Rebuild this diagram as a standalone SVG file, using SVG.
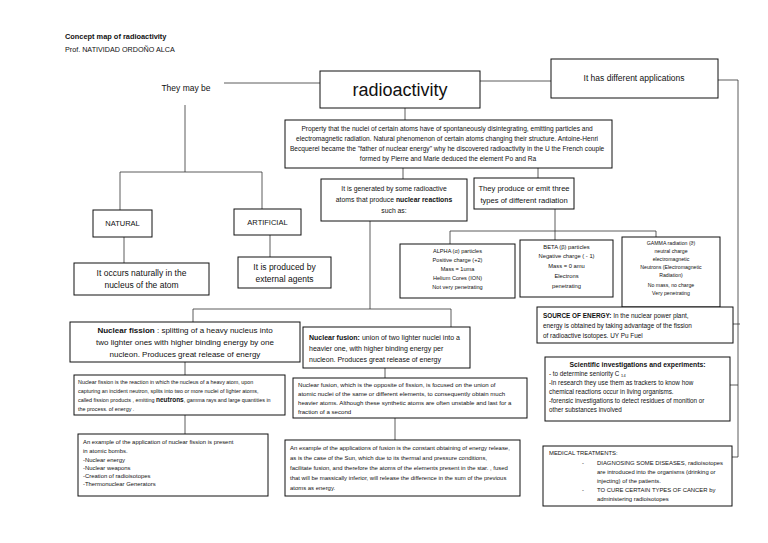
<svg xmlns="http://www.w3.org/2000/svg" width="768" height="543" viewBox="0 0 768 543">
<style>
.bx{fill:#fff;stroke:#111;stroke-width:1}
.ln{fill:none;stroke:#333;stroke-width:0.8}
text{font-family:"Liberation Sans",Arial,sans-serif;fill:#111}
.c{text-anchor:middle}
.b{font-weight:bold}
</style>
<rect width="768" height="543" fill="#fff"/>
<g id="header">
<text x="65" y="39" font-size="7.4" class="b">Concept map of radioactivity</text>
<text x="65" y="52" font-size="7.2">Prof. NATIVIDAD ORDOÑO ALCA</text>
</g>
<g id="connectors">
<path class="ln" d="M224 83H320"/>
<path class="ln" d="M185 105V172M120 172H262M120 172V210M262 172V209"/>
<path class="ln" d="M480 81H551"/>
<path class="ln" d="M718 80H738V457"/>
<path class="ln" d="M405 108V120"/>
<path class="ln" d="M403 168V179M538 168V178"/>
<path class="ln" d="M124 237V263M270 235V257"/>
<path class="ln" d="M555 209V231M450 231H656M450 231V244M555 231V240M656 231V237"/>
<path class="ln" d="M370 221V309M193 309H451M193 309V322M451 309V327"/>
<path class="ln" d="M185 362V375M185 415V434"/>
<path class="ln" d="M385 368V378M395 418V440"/>
<path class="ln" d="M733 324H740M730 385H738M732 457H738"/>
</g>
<g id="they-may-be"><text x="186" y="91" font-size="8.5" class="c">They may be</text></g>
<g id="radioactivity">
<rect class="bx" x="320" y="71" width="160" height="37"/>
<text x="400" y="96" font-size="18" class="c">radioactivity</text>
</g>
<g id="applications">
<rect class="bx" x="551" y="59" width="167" height="39"/>
<text x="634" y="81" font-size="8.5" class="c">It has different applications</text>
</g>
<g id="property">
<rect class="bx" x="285" y="120" width="327" height="48"/>
<text font-size="6.6" class="c">
<tspan x="448" y="131">Property that the nuclei of certain atoms have of spontaneously disintegrating, emitting particles and</tspan>
<tspan x="448" y="141">electromagnetic radiation. Natural phenomenon of certain atoms changing their structure. Antoine-Henri</tspan>
<tspan x="448" y="151">Becquerel became the "father of nuclear energy" why he discovered radioactivity in the U the French couple</tspan>
<tspan x="448" y="161">formed by Pierre and Marie deduced the element Po and Ra</tspan>
</text>
</g>
<g id="natural">
<rect class="bx" x="93" y="210" width="59" height="27"/>
<text x="122.5" y="226" font-size="7.5" class="c">NATURAL</text>
</g>
<g id="artificial">
<rect class="bx" x="234" y="209" width="67" height="26"/>
<text x="267.5" y="225" font-size="7.5" class="c">ARTIFICIAL</text>
</g>
<g id="natural-desc">
<rect class="bx" x="74" y="263" width="135" height="32"/>
<text font-size="8.5" class="c"><tspan x="141.5" y="276">It occurs naturally in the</tspan><tspan x="141.5" y="288">nucleus of the atom</tspan></text>
</g>
<g id="artificial-desc">
<rect class="bx" x="238" y="257" width="93" height="31"/>
<text font-size="8.5" class="c"><tspan x="284.5" y="270">It is produced by</tspan><tspan x="284.5" y="282">external agents</tspan></text>
</g>
<g id="generated">
<rect class="bx" x="321" y="179" width="146" height="42"/>
<text font-size="6.8" class="c"><tspan x="394" y="191">It is generated by some radioactive</tspan><tspan x="394" y="202">atoms that produce <tspan class="b">nuclear reactions</tspan></tspan><tspan x="394" y="213">such as:</tspan></text>
</g>
<g id="produce">
<rect class="bx" x="474" y="178" width="100" height="31"/>
<text font-size="7.6" class="c"><tspan x="524" y="191">They produce or emit three</tspan><tspan x="524" y="203">types of different radiation</tspan></text>
</g>
<g id="alpha">
<rect class="bx" x="400" y="244" width="115" height="54"/>
<text font-size="5.6" class="c"><tspan x="457.5" y="253">ALPHA (α) particles</tspan><tspan x="457.5" y="262">Positive charge (+2)</tspan><tspan x="457.5" y="271">Mass = 1uma</tspan><tspan x="457.5" y="280">Helium Cores (ION)</tspan><tspan x="457.5" y="289">Not very penetrating</tspan></text>
</g>
<g id="beta">
<rect class="bx" x="520" y="240" width="93" height="57"/>
<text font-size="5.8" class="c" fill="#333"><tspan x="566.5" y="249">BETA (β) particles</tspan><tspan x="566.5" y="258">Negative charge ( - 1)</tspan><tspan x="566.5" y="268" fill="#111">Mass = 0 amu</tspan><tspan x="566.5" y="278">Electrons</tspan><tspan x="566.5" y="288">penetrating</tspan></text>
</g>
<g id="gamma">
<rect class="bx" x="622" y="237" width="98" height="70"/>
<text font-size="5.2" class="c" fill="#333"><tspan x="671" y="245">GAMMA radiation (ϑ)</tspan><tspan x="671" y="253">neutral charge</tspan><tspan x="671" y="261">electromagnetic</tspan><tspan x="671" y="269">Neutrons (Electromagnetic</tspan><tspan x="671" y="277">Radiation)</tspan><tspan x="671" y="287">No mass, no charge</tspan><tspan x="671" y="295">Very penetrating</tspan></text>
</g>
<g id="fission">
<rect class="bx" x="70" y="322" width="230" height="40"/>
<text font-size="8" class="c"><tspan x="185" y="333"><tspan class="b">Nuclear fission</tspan> : splitting of a heavy nucleus into</tspan><tspan x="185" y="345">two lighter ones with higher binding energy by one</tspan><tspan x="185" y="357">nucleon. Produces great release of energy</tspan></text>
</g>
<g id="fission-desc">
<rect class="bx" x="74" y="375" width="211" height="40"/>
<text font-size="5.4" fill="#222"><tspan x="78" y="384">Nuclear fission is the reaction in which the nucleus of a heavy atom, upon</tspan><tspan x="78" y="393">capturing an incident neutron, splits into two or more nuclei of lighter atoms,</tspan><tspan x="78" y="402">called fission products , emitting <tspan class="b" font-size="6.5">neutrons</tspan>, gamma rays and large quantities in</tspan><tspan x="78" y="411">the process. of energy .</tspan></text>
</g>
<g id="fission-example">
<rect class="bx" x="78" y="434" width="190" height="62"/>
<text font-size="5.9" fill="#222"><tspan x="83" y="444">An example of the application of nuclear fission is present</tspan><tspan x="83" y="453">in atomic bombs.</tspan><tspan x="83" y="462">-Nuclear energy</tspan><tspan x="83" y="470">-Nuclear weapons</tspan><tspan x="83" y="478">-Creation of radioisotopes</tspan><tspan x="83" y="486">-Thermonuclear Generators</tspan></text>
</g>
<g id="fusion">
<rect class="bx" x="303" y="327" width="167" height="41"/>
<text font-size="7"><tspan x="309" y="340"><tspan class="b">Nuclear fusion:</tspan> union of two lighter nuclei into a</tspan><tspan x="309" y="351">heavier one, with higher binding energy per</tspan><tspan x="309" y="362">nucleon. Produces great release of energy</tspan></text>
</g>
<g id="fusion-desc">
<rect class="bx" x="293" y="378" width="234" height="40"/>
<text font-size="6.1" fill="#222"><tspan x="298" y="387">Nuclear fusion, which is the opposite of fission, is focused on the union of</tspan><tspan x="298" y="396">atomic nuclei of the same or different elements, to consequently obtain much</tspan><tspan x="298" y="405">heavier atoms. Although these synthetic atoms are often unstable and last for a</tspan><tspan x="298" y="414">fraction of a second</tspan></text>
</g>
<g id="fusion-example">
<rect class="bx" x="285" y="440" width="235" height="56"/>
<text font-size="5.95" fill="#222"><tspan x="290" y="450">An example of the applications of fusion is the constant obtaining of energy release,</tspan><tspan x="290" y="460">as is the case of the Sun, which due to its thermal and pressure conditions,</tspan><tspan x="290" y="470">facilitate fusion, and therefore the atoms of the elements present in the star. , fused</tspan><tspan x="290" y="480">that will be massically inferior, will release the difference in the sum of the previous</tspan><tspan x="290" y="490">atoms as energy.</tspan></text>
</g>
<g id="source">
<rect class="bx" x="537" y="307" width="196" height="36"/>
<text font-size="6.4" fill="#222"><tspan x="543" y="318"><tspan class="b">SOURCE OF ENERGY:</tspan> In the nuclear power plant,</tspan><tspan x="543" y="328">energy is obtained by taking advantage of the fission</tspan><tspan x="543" y="338">of radioactive isotopes. UY Pu Fuel</tspan></text>
</g>
<g id="scientific">
<rect class="bx" x="545" y="357" width="185" height="64"/>
<text x="637.5" y="367" font-size="6.8" class="c b">Scientific investigations and experiments:</text>
<text font-size="6.3" fill="#222"><tspan x="549" y="376">- to determine seniority C ₁₄</tspan><tspan x="549" y="385">-In research they use them as trackers to know how</tspan><tspan x="549" y="394">chemical reactions occur in living organisms.</tspan><tspan x="549" y="403">-forensic investigations to detect residues of monition or</tspan><tspan x="549" y="412">other substances involved</tspan></text>
</g>
<g id="medical">
<rect class="bx" x="543" y="446" width="189" height="60"/>
<text font-size="5.9" fill="#222"><tspan x="549" y="455">MEDICAL TREATMENTS:</tspan><tspan x="582" y="465">-</tspan><tspan x="597" y="465">DIAGNOSING SOME DISEASES, radioisotopes</tspan><tspan x="597" y="474">are introduced into the organisms (drinking or</tspan><tspan x="597" y="483">injecting) of the patients.</tspan><tspan x="582" y="492">-</tspan><tspan x="597" y="492">TO CURE CERTAIN TYPES OF CANCER by</tspan><tspan x="597" y="501">administering radioisotopes</tspan></text>
</g>
</svg>
